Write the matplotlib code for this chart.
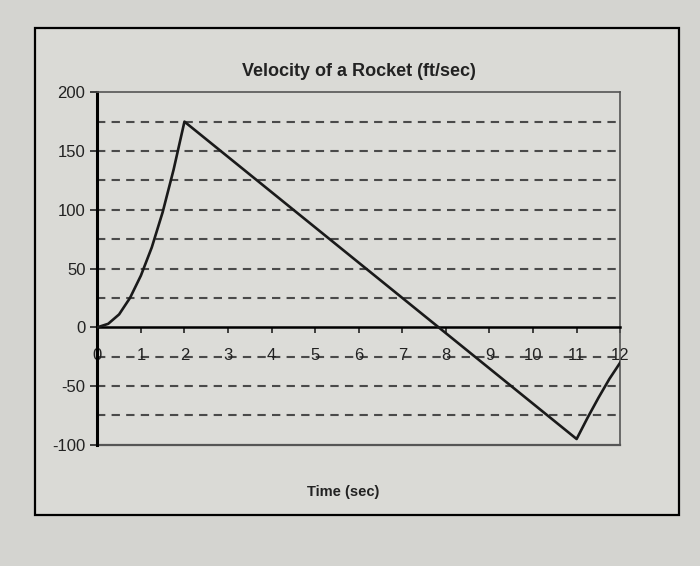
import numpy as np
import matplotlib
matplotlib.use("Agg")
import matplotlib.pyplot as plt
from matplotlib.patches import Rectangle

# values
time_s = [0, 0.25, 0.5, 0.75, 1, 1.25, 1.5, 1.75, 2, 11, 11.25, 11.5, 11.75, 12]
velocity = [0, 3, 11, 25, 44, 68, 98, 134, 175, -95, -77, -60, -44, -30]
x_ticks = list(range(0, 13))
y_ticks = [-100, -50, 0, 50, 100, 150, 200]
grid_levels = [-75, -50, -25, 25, 50, 75, 100, 125, 150, 175]

plt.rcParams["font.family"] = ["Liberation Sans", "DejaVu Sans"]
plt.rcParams["axes.unicode_minus"] = False

fig = plt.figure(figsize=(7, 5.66), dpi=100, facecolor="#d4d4d0")
fig.patches.append(Rectangle((0.05, 0.09), 0.92, 0.86, transform=fig.transFigure,
                             facecolor="#dadad6", edgecolor="black", lw=1.6,
                             zorder=-5))
ax = fig.add_axes([0.139, 0.214, 0.747, 0.623])
ax.set_zorder(2)
ax.set_facecolor("#dcdcd8")

for g in grid_levels:
    ax.axhline(g, color="#4a4a4a", lw=1.5, ls=(0, (4, 3)), zorder=1)

ax.plot(time_s, velocity, color="#1a1a1a", lw=1.9, zorder=3)

ax.set_xlim(0, 12)
ax.set_ylim(-100, 200)
ax.set_xticks(x_ticks)
ax.set_yticks(y_ticks)
ax.tick_params(axis="y", direction="out", length=5, width=1.2, labelsize=12,
               colors="#222222")
ax.tick_params(axis="x", direction="out", length=4, width=1.2, labelsize=12,
               pad=11, colors="#222222")

ax.spines["bottom"].set_position(("data", 0))
ax.spines["bottom"].set_linewidth(1.8)
ax.spines["left"].set_linewidth(2.2)
for s in ("top", "right"):
    ax.spines[s].set_color("#555555")
    ax.spines[s].set_linewidth(1.2)
ax.plot([0, 12], [-100, -100], color="#555555", lw=1.6, clip_on=False, zorder=2)

ax.set_title("Velocity of a Rocket (ft/sec)", fontsize=13, fontweight="bold",
             pad=12, color="#222222")
fig.text(0.49, 0.13, "Time (sec)", ha="center", va="center", fontsize=10.5,
         fontweight="bold", color="#222222")

fig.savefig("out.png", dpi=100, facecolor=fig.get_facecolor())
